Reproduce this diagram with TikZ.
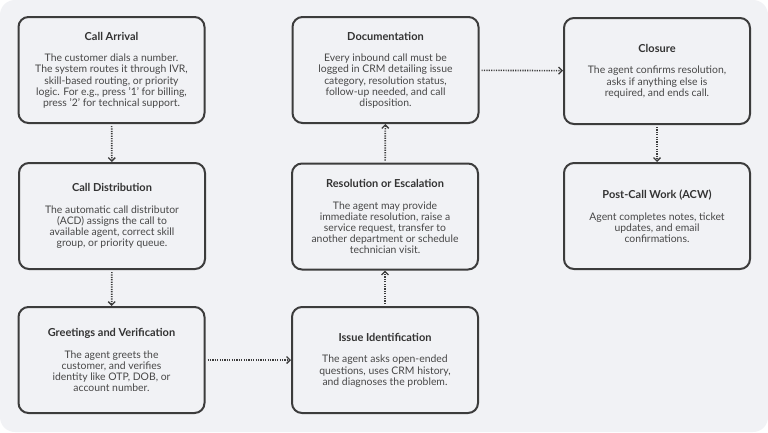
\documentclass[tikz,border=0pt]{standalone}
\usepackage{fontspec}
\setmainfont{Lato}
\usetikzlibrary{arrows.meta,positioning}

\definecolor{bgcol}{HTML}{F1F2F5}
\definecolor{edgecol}{HTML}{3C3C3C}
\definecolor{headcol}{HTML}{333333}
\definecolor{bodycol}{HTML}{474747}

\begin{document}
\begin{tikzpicture}
 	[x=1pt,y=-1pt,
	step box/.style={rectangle,rounded corners=10pt,draw=edgecol,fill=bgcol,line width=2pt,minimum width=186pt,minimum height=106pt,inner sep=0pt,align=center,text=bodycol,font=\fontsize{10.4}{11.1}\selectfont},
	flow/.style={draw=edgecol,line width=1.6pt,dash pattern=on 1.2pt off 1.2pt,shorten <=2pt,-{Straight Barb[length=3.5pt,width=7pt,line width=1.3pt]}}]
	% background
	\fill[white] (0,0) rectangle (768,432);
	\fill[bgcol,rounded corners=15pt] (0,0) rectangle (768,432);
	\useasboundingbox (0,0) rectangle (768,432);
	\newcommand{\hd}[1]{{\fontsize{11}{11.1}\selectfont\bfseries\color{headcol}#1}\\[10.6pt]}
	% first column
	\node (arrival) at (111.5,70) [step box] {\hd{Call Arrival}The customer dials a number.\\The system routes it through IVR,\\skill-based routing, or priority\\logic. For e.g., press '1' for billing,\\press '2' for technical support.};
	\node (distrib) at (112,216) [step box] {\hd{Call Distribution}The automatic call distributor\\(ACD) assigns the call to\\available agent, correct skill\\group, or priority queue.};
	\node (greet) at (111.5,360) [step box] {\hd{Greetings and Verification}The agent greets the\\customer, and verifies\\identity like OTP, DOB, or\\account number.};
	% second column
	\node (docu) at (385.5,70) [step box] {\hd{Documentation}Every inbound call must be\\logged in CRM detailing issue\\category, resolution status,\\follow-up needed, and call\\disposition.};
	\node (resol) at (385,216.5) [step box] {\hd{Resolution or Escalation}The agent may provide\\immediate resolution, raise a\\service request, transfer to\\another department or schedule\\technician visit.};
	\node (issue) at (385,360) [step box] {\hd{Issue Identification}The agent asks open-ended\\questions, uses CRM history,\\and diagnoses the problem.};
	% third column
	\node (closure) at (657,71) [step box] {\hd{Closure}The agent confirms resolution,\\asks if anything else is\\required, and ends call.};
	\node (acw) at (657,216) [step box] {\hd{Post-Call Work (ACW)}Agent completes notes, ticket\\updates, and email\\confirmations.};
	% connectors
	\draw [flow] (arrival) -- (distrib);
	\draw [flow] (distrib) -- (greet);
	\draw [flow] (greet) -- (issue);
	\draw [flow] (issue) -- (resol);
	\draw [flow] (resol) -- (docu);
	\draw [flow] (docu) -- (closure);
	\draw [flow] (closure) -- (acw);
\end{tikzpicture}
\end{document}
